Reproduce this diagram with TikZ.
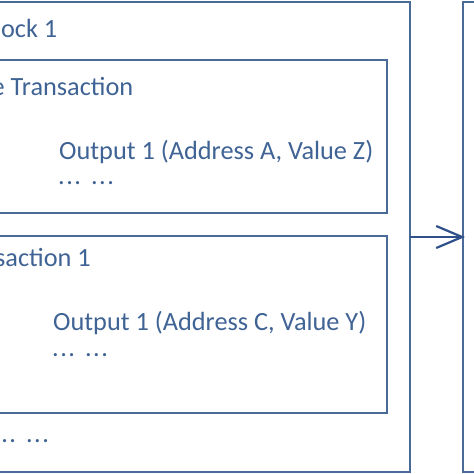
\documentclass[tikz,border=0pt]{standalone}
\usepackage{fontspec}
\setmainfont{Carlito}
\usetikzlibrary{arrows.meta}
\definecolor{boxblue}{HTML}{4A6B97}
\definecolor{txtblue}{HTML}{3F6394}
\definecolor{arrblue}{HTML}{2F5089}
\newcommand{\dotrow}{.\kern1.5pt.\kern1.5pt.\kern10pt.\kern1.5pt.\kern1.5pt.}
\tikzset{
  frame/.style={draw=boxblue, line width=2pt},
  lbl/.style={text=txtblue, font=\fontsize{26.3}{30}\selectfont, inner sep=0pt, anchor=base west},
  conn/.style={draw=arrblue, line width=2pt, -{Straight Barb[length=26pt, width=22pt, line width=2.2pt]}}
}
\begin{document}
\begin{tikzpicture}[x=1pt, y=-1pt]
\useasboundingbox (0,0) rectangle (474,474);
\clip (0,0) rectangle (474,474);
% outer block
\draw[frame] (-200,1.5) rectangle (410,471.5);
\coordinate (blockR) at (410,237);
% transaction boxes
\draw[frame] (-200,60) rectangle (387,213);
\draw[frame] (-200,236) rectangle (387,413);
% right block
\draw[frame] (463,1.5) rectangle (700,471.5);
\coordinate (nextL) at (465,237);
% texts
\node[lbl, anchor=base east] (blk) at (57.5,37.5) {Block 1};
\node[lbl, anchor=base east] (cb) at (133.5,95.5) {Coinbase Transaction};
\node[lbl] (o1) at (59,159) {Output 1 (Address A, Value Z)};
\node[lbl] (d1) at (58,184) {\dotrow};
\node[lbl, anchor=base east] (t1) at (91,266) {Transaction 1};
\node[lbl] (o2) at (53,330) {Output 1 (Address C, Value Y)};
\node[lbl] (d2) at (52,356.5) {\dotrow};
\node[lbl] (d3) at (-7,442.5) {\dotrow};
% arrow
\draw[conn] (blockR) -- (nextL);
\end{tikzpicture}
\end{document}
